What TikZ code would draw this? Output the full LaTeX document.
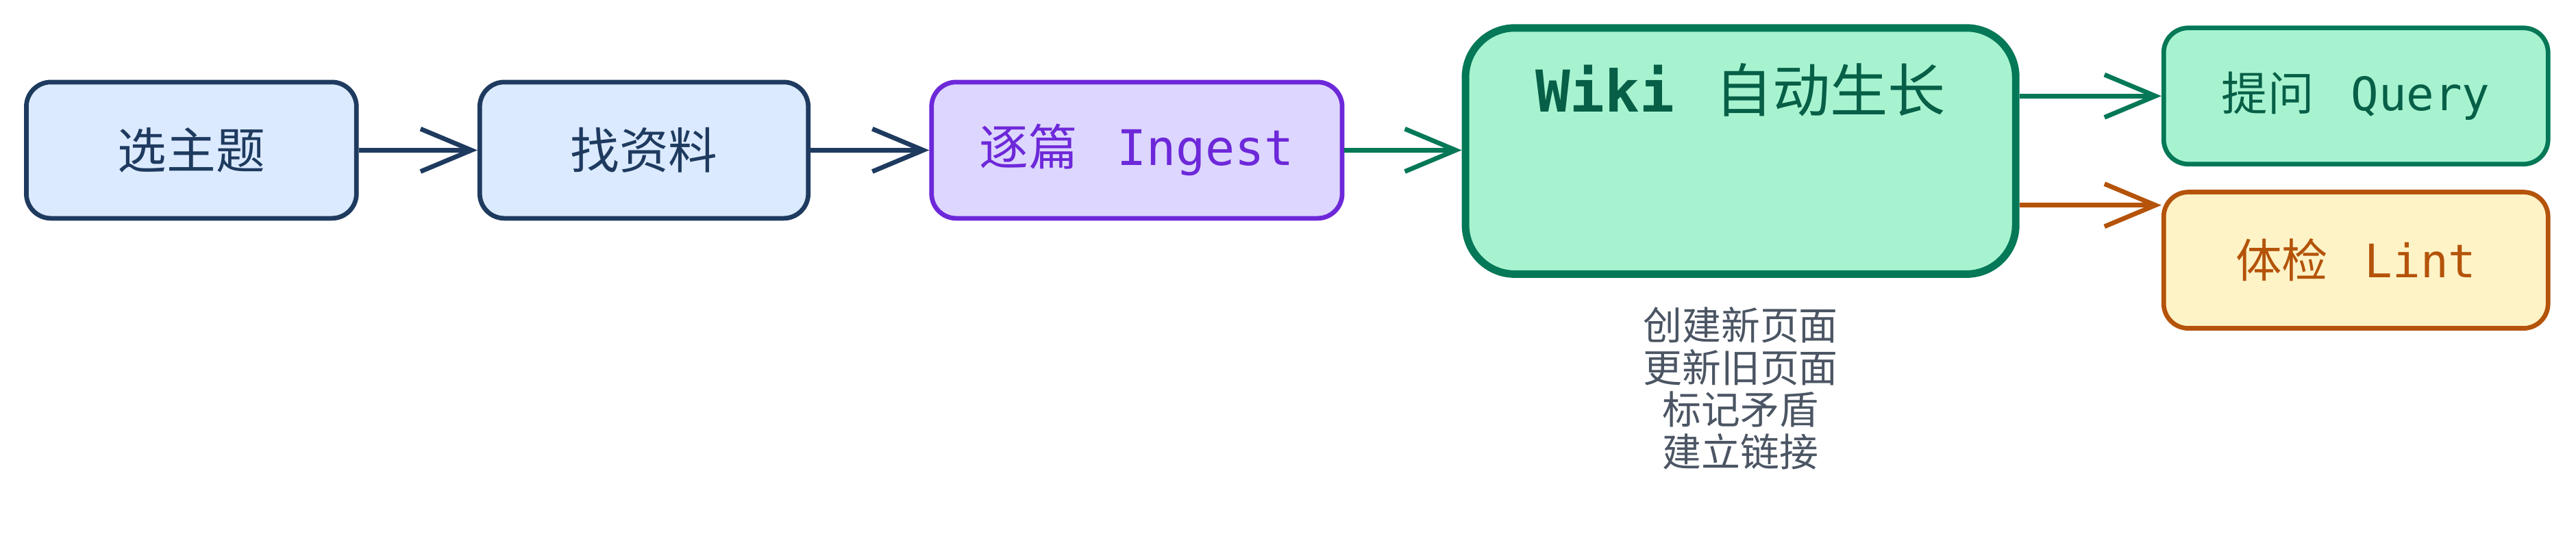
\documentclass[tikz,border=0pt]{standalone}
\usepackage{fontspec}
\setmonofont{DejaVu Sans Mono}
\newfontfamily\cjk{Noto Sans CJK SC}
\usetikzlibrary{arrows.meta}
\definecolor{navy}{HTML}{1E3A5F}
\definecolor{bluef}{HTML}{DBEAFE}
\definecolor{purp}{HTML}{6D28D9}
\definecolor{purpf}{HTML}{DDD6FE}
\definecolor{grn}{HTML}{047857}
\definecolor{grnt}{HTML}{065F46}
\definecolor{grnf}{HTML}{A7F3D0}
\definecolor{org}{HTML}{B45309}
\definecolor{orgf}{HTML}{FEF3C7}
\definecolor{slate}{HTML}{4B5563}
\begin{document}
\begin{tikzpicture}[x=0.02cm,y=-0.02cm,
  box/.style={rounded corners=0.3cm,line width=1.6pt,inner sep=0pt,font=\fontsize{17}{19}\selectfont\cjk},
  arr/.style={line width=1.6pt,-{Straight Barb[length=0.62cm,width=0.52cm,line width=1.6pt]}}]
\useasboundingbox (0,0) rectangle (1568,333);
\node[box,draw=navy,fill=bluef,text=navy,minimum width=4.02cm,minimum height=1.66cm] (a) at (116.5,91.5) {选主题};
\node[box,draw=navy,fill=bluef,text=navy,minimum width=4.0cm,minimum height=1.66cm] (b) at (392,91.5) {找资料};
\node[box,draw=purp,fill=purpf,text=purp,minimum width=5.0cm,minimum height=1.66cm] (c) at (692,91.5) {逐篇\hspace{0.8em}{\ttfamily Ingest}};
\node[box,draw=grn,fill=grnf,line width=2.6pt,rounded corners=0.6cm,minimum width=6.7cm,minimum height=3.0cm] (d) at (1059.5,92) {};
\node[font=\fontsize{20}{22}\selectfont\cjk,text=grnt] (dt) at (1059.5,55) {{\ttfamily\bfseries Wiki}\hspace{0.7em}自动生长};
\node[box,draw=grn,fill=grnf,text=grnt,font=\fontsize{16}{18}\selectfont\cjk,minimum width=4.68cm,minimum height=1.66cm] (q) at (1434,58.5) {提问\hspace{0.8em}{\ttfamily Query}};
\node[box,draw=org,fill=orgf,text=org,font=\fontsize{16}{18}\selectfont\cjk,minimum width=4.68cm,minimum height=1.66cm] (l) at (1434,158.5) {体检\hspace{0.8em}{\ttfamily Lint}};
\node[font=\fontsize{13.5}{14.6}\selectfont\cjk,text=slate,align=center,anchor=north] (n) at (1059.5,181) {创建新页面\\更新旧页面\\标记矛盾\\建立链接};
\draw[arr,draw=navy] (a) -- (b);
\draw[arr,draw=navy] (b) -- (c);
\draw[arr,draw=grn] (c.east) -- (c.east-|d.west);
\draw[arr,draw=grn] (d.east|-q) -- (q.west);
\draw[arr,draw=org] (d.east|-0,125) -- (q.west|-0,125);
\end{tikzpicture}
\end{document}
